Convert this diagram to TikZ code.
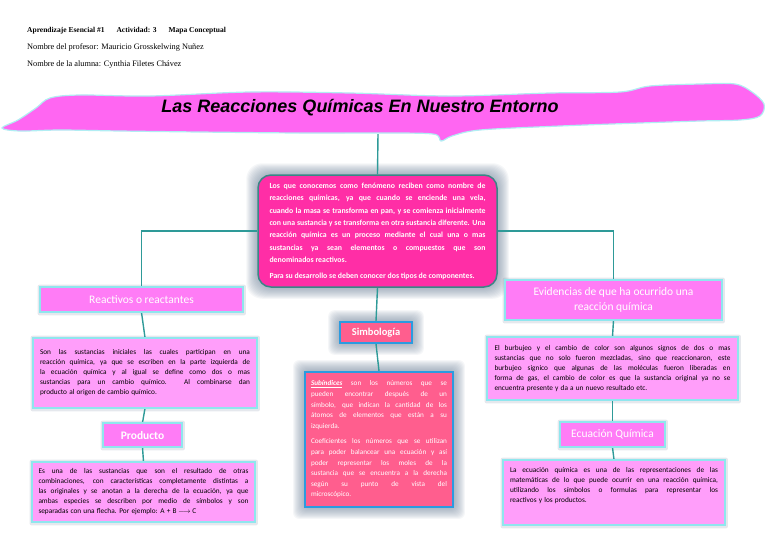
\documentclass[tikz,border=0pt]{standalone}
\usepackage{fontspec}
\setmainfont{Liberation Serif}
\newfontfamily\cf{Carlito}
\newfontfamily\tf{Liberation Sans}
\usetikzlibrary{calc}
\pgfdeclarelayer{glow}
\pgfdeclarelayer{background}
\pgfsetlayers{glow,background,main}
\definecolor{blob}{HTML}{FF66F2}
\definecolor{hot}{HTML}{FF2EA6}
\definecolor{lbl}{HTML}{FF7CF6}
\definecolor{txtbox}{HTML}{FF9EFA}
\definecolor{rose}{HTML}{FF5E8E}
\definecolor{tealc}{HTML}{2E9A98}
\definecolor{darkteal}{HTML}{3A8686}
\definecolor{lcyan}{HTML}{8FE6EE}
\definecolor{mauve}{HTML}{9A5A80}
\definecolor{glowc}{HTML}{6F8299}
\definecolor{blueb}{HTML}{2B9BE0}
\tikzset{
  lblbox/.style={fill=lbl, draw=darkteal, line width=0.8pt, double=lcyan, double distance=1.2pt,
    inner sep=0pt, align=center, text=white, font=\cf\fontsize{11.5}{14}\selectfont},
  tbox/.style={fill=txtbox, draw=mauve, line width=0.8pt, double=lcyan, double distance=1.2pt,
    inner sep=0pt, text=black},
  conn/.style={draw=tealc, line width=1.4pt},
}
\newcommand{\boxtxt}[2]{\parbox{#1}{\cf\fontsize{7.3}{10}\selectfont\spaceskip=0.3em plus 1.5em #2}}
\begin{document}
\begin{tikzpicture}[x=1pt,y=-1pt]
\useasboundingbox (0,0) rectangle (768,542);
% header
\node[anchor=west, inner sep=0pt, font=\bfseries\fontsize{7.5}{9}\selectfont] (h1) at (27,31)
  {Aprendizaje Esencial \#1\hspace{12pt}Actividad: 3\hspace{12pt}Mapa Conceptual};
\node[anchor=west, inner sep=0pt, font=\fontsize{8.3}{10}\selectfont] (h2) at (27,47.5)
  {Nombre del profesor: Mauricio Grosskelwing Nuñez};
\node[anchor=west, inner sep=0pt, font=\fontsize{8.3}{10}\selectfont] (h3) at (27,64.5)
  {Nombre de la alumna: Cynthia Filetes Chávez};
% title blob
\draw[fill=blob, draw=lcyan!70, line width=1.2pt] plot[smooth cycle, tension=0.55] coordinates {
 (2,128) (18,120) (36,108) (50,98) (80,95) (150,96) (250,92) (350,93) (450,96) (550,93)
 (620,92) (650,86) (700,84) (735,84) (752,92) (764,104) (760,116) (740,120) (700,121)
 (640,123) (560,126) (480,130) (452,136) (441,141) (433,134) (380,133) (300,133)
 (200,132) (120,131) (60,130) (20,131)};
\node[font=\tf\bfseries\itshape\fontsize{18}{20}\selectfont, inner sep=0pt] (title) at (360,108)
  {Las Reacciones Químicas En Nuestro Entorno};
\coordinate (tb) at (378,134);
% central
\node[fill=hot, draw=darkteal, line width=1.5pt, rounded corners=13pt, minimum width=239pt,
  minimum height=112pt, inner sep=0pt, text=white] (C) at (377.5,231)
  {\parbox{216pt}{\cf\bfseries\fontsize{7.8}{12.4}\selectfont
  Los que conocemos como fenómeno reciben como nombre de\linebreak
  reacciones químicas, ya que cuando se enciende una vela,\linebreak
  cuando la masa se transforma en pan, y se comienza inicialmente\linebreak
  con una sustancia y se transforma en otra sustancia diferente. Una\linebreak
  reacción química es un proceso mediante el cual una o mas\linebreak
  sustancias ya sean elementos o compuestos que son\linebreak
  denominados reactivos.\par\vspace{3pt}
  Para su desarrollo se deben conocer dos tipos de componentes.}};
% left column
\node[lblbox, minimum width=203pt, minimum height=25pt] (R) at (141.5,299.5) {Reactivos o reactantes};
\node[tbox, minimum width=224pt, minimum height=70pt] (RT) at (145,373)
  {\boxtxt{210pt}{Son las sustancias iniciales las cuales participan en una\linebreak
  reacción química, ya que se escriben en la parte izquierda de\linebreak
  la ecuación química y al igual se define como dos o mas\linebreak
  sustancias para un cambio químico. Al combinarse dan\linebreak
  producto al origen de cambio químico.}};
\node[lblbox, minimum width=79pt, minimum height=24pt] (P) at (142.5,435) {\bfseries Producto};
\node[tbox, minimum width=223pt, minimum height=60pt] (PT) at (143.5,492)
  {\boxtxt{210pt}{Es una de las sustancias que son el resultado de otras\linebreak
  combinaciones, con características completamente distintas a\linebreak
  las originales y se anotan a la derecha de la ecuación, ya que\linebreak
  ambas especies se describen por medio de símbolos y son\linebreak
  separadas con una flecha. Por ejemplo: A + B$\,\longrightarrow\,$C}};
% middle column
\node[fill=rose, draw=blueb, line width=1.6pt, minimum width=72pt, minimum height=21pt, inner sep=0pt,
  text=white, font=\cf\bfseries\fontsize{10.5}{12}\selectfont] (S) at (376,332.5) {Simbología};
\node[fill=rose, draw=blueb, line width=1.8pt, minimum width=148pt, minimum height=135pt, inner sep=0pt,
  text=white] (ST) at (379,439.5)
  {\parbox{136pt}{\cf\fontsize{7.2}{10.6}\selectfont\spaceskip=0.3em plus 1.5em
  \underline{\textbf{\textit{Subíndices}}} son los números que se\linebreak
  pueden encontrar después de un\linebreak
  símbolo, que indican la cantidad de los\linebreak
  átomos de elementos que están a su\linebreak
  izquierda.\par\vspace{5pt}
  Coeficientes los números que se utilizan\linebreak
  para poder balancear una ecuación y así\linebreak
  poder representar los moles de la\linebreak
  sustancia que se encuentra a la derecha\linebreak
  según su punto de vista del\linebreak
  microscópico.}};
% right column
\node[lblbox, minimum width=217pt, minimum height=40pt, font=\cf\fontsize{11.5}{15}\selectfont] (E) at (613.5,300)
  {Evidencias de que ha ocurrido una\\reacción química};
\node[tbox, minimum width=251pt, minimum height=63pt] (ET) at (612.5,368.5)
  {\boxtxt{236pt}{El burbujeo y el cambio de color son algunos signos de dos o mas\linebreak
  sustancias que no solo fueron mezcladas, sino que reaccionaron, este\linebreak
  burbujeo signico que algunas de las moléculas fueron liberadas en\linebreak
  forma de gas, el cambio de color es que la sustancia original ya no se\linebreak
  encuentra presente y da a un nuevo resultado etc.}};
\node[lblbox, minimum width=105pt, minimum height=25pt] (Q) at (612.5,434.5) {Ecuación Química};
\node[tbox, minimum width=222pt, minimum height=65pt] (QT) at (614,492.5)
  {\boxtxt{208pt}{La ecuación química es una de las representaciones de las\linebreak
  matemáticas de lo que puede ocurrir en una reacción química,\linebreak
  utilizando los símbolos o formulas para representar los\linebreak
  reactivos y los productos.\par\vspace{14pt}}};
% glows
\begin{pgfonlayer}{glow}
  \foreach \d in {11,10,...,1}{
    \fill[glowc, opacity=0.07, rounded corners=16pt] ([shift={(-\d pt,\d pt)}]C.north west) rectangle ([shift={(\d pt,-\d pt)}]C.south east);
    \fill[glowc, opacity=0.07, rounded corners=6pt] ([shift={(-\d pt,\d pt)}]S.north west) rectangle ([shift={(\d pt,-\d pt)}]S.south east);
    \fill[glowc, opacity=0.07, rounded corners=6pt] ([shift={(-\d pt,\d pt)}]ST.north west) rectangle ([shift={(\d pt,-\d pt)}]ST.south east);
  }
  \foreach \n in {R,P,E,Q,RT,PT,ET,QT}{
    \fill[glowc, opacity=0.18, rounded corners=2pt] ([shift={(-2pt,2pt)}]\n.north west) rectangle ([shift={(2.5pt,-3pt)}]\n.south east);
  }
\end{pgfonlayer}
% connectors
\begin{pgfonlayer}{background}
  \draw[conn] (tb) -- (C.north);
  \draw[conn] (C.west) -| (R.north);
  \draw[conn] (C.east) -| (E.north);
  \draw[conn] (C.south) -- (S.north);
  \draw[conn] (S.south) -- (ST.north);
  \draw[conn] (R.south) -- (RT.north);
  \draw[conn] (RT.south) -- (P.north);
  \draw[conn] (P.south) -- (PT.north);
  \draw[conn] (E.south) -- (ET.north);
  \draw[conn] (ET.south) -- (Q.north);
  \draw[conn] (Q.south) -- (QT.north);
\end{pgfonlayer}
\end{tikzpicture}
\end{document}
